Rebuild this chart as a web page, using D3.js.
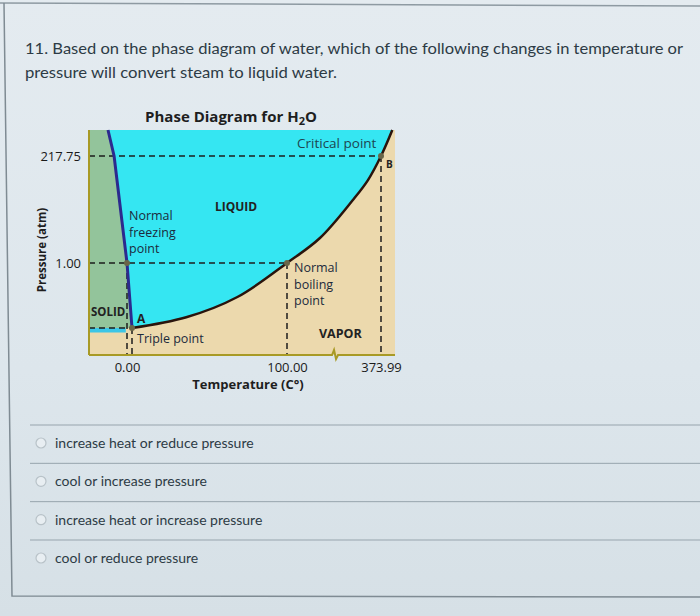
<!DOCTYPE html>
<html>
<head>
<meta charset="utf-8">
<script src="https://cdn.jsdelivr.net/npm/d3@7"></script>
<style>
  html, body { margin: 0; padding: 0; }
  body { width: 700px; height: 616px; overflow: hidden;
         background: linear-gradient(180deg, #e4ebf0 0%, #dde6ec 60%, #d6e0e6 100%); }
  svg { display: block; }
</style>
</head>
<body>
<svg id="page" width="700" height="616"></svg>
<script>
// question + answers
const question = [
  '11. Based on the phase diagram of water, which of the following changes in temperature or',
  'pressure will convert steam to liquid water.'
];
const answers = [
  'increase heat or reduce pressure',
  'cool or increase pressure',
  'increase heat or increase pressure',
  'cool or reduce pressure'
];

// phase diagram values (temperature in C, pressure in atm), schematic
const tempTicks = [0, 100, 373.99];
const pressureTicks = [1, 217.75];
const fusionTemp = [-12.5, -8.5, 0, 0.01];
const fusionPressure = [300, 217.75, 1, 0.006];
const vaporTemp = [0.01, 35, 68, 100, 196, 292, 336, 373.99, 395];
const vaporPressure = [0.006, 0.17, 0.48, 1, 51.6, 128.6, 169, 217.75, 300];
const pointNames = ['triple', 'freezing', 'boiling', 'critical'];
const pointTemp = [0.01, 0, 100, 373.99];
const pointPressure = [0.006, 1, 1, 217.75];

const svg = d3.select('#page');

// page frame
svg.append('path').attr('d', 'M0,3 L700,6').attr('stroke', '#8e9aa2').attr('stroke-width', 1.5);
svg.append('path').attr('d', 'M4,3 L12,596 L700,597').attr('fill', 'none')
  .attr('stroke', '#7f8b93').attr('stroke-width', 1.5);

const q = svg.append('g').attr('font-family', 'Lato').attr('font-size', 16).attr('fill', '#2d3b45');
q.append('text').attr('x', 25).attr('y', 54).attr('textLength', 658).attr('lengthAdjust', 'spacingAndGlyphs').text(question[0]);
q.append('text').attr('x', 25).attr('y', 78).attr('textLength', 312).attr('lengthAdjust', 'spacingAndGlyphs').text(question[1]);

// answers
const ansY = d3.scalePoint().domain(answers).range([443, 558]);
const a = svg.append('g').attr('font-family', 'Lato').attr('font-size', 14).attr('fill', '#2d3b45');
answers.forEach(d => {
  const y = ansY(d);
  a.append('line').attr('x1', 30).attr('x2', 700).attr('y1', y - 18).attr('y2', y - 18)
    .attr('stroke', '#97a4ad').attr('stroke-width', 1);
  a.append('circle').attr('cx', 41).attr('cy', y).attr('r', 5)
    .attr('fill', '#e8eef2').attr('stroke', '#b8c2c8').attr('stroke-width', 1.2);
  a.append('text').attr('x', 55).attr('y', y + 5).text(d);
});

// chart
const x = d3.scaleLinear().domain([-25, 0, 0.01, 100, 373.99, 400]).range([89, 127, 132, 287, 381, 395]);
const y = d3.scaleLinear().domain([0, 0.006, 1, 217.75, 300]).range([355, 328, 263, 156, 130]);
const g = svg.append('g').attr('font-family', 'Open Sans');

const line = d3.line().curve(d3.curveCatmullRom);
const straight = d3.line();
const fusion = fusionTemp.map((t, i) => [x(t), y(fusionPressure[i])]);
const vapor = vaporTemp.map((t, i) => [x(t), y(vaporPressure[i])]);

// vapor background
g.append('rect').attr('x', x(-25)).attr('y', y(300)).attr('width', x(400) - x(-25)).attr('height', y(0) - y(300))
  .attr('fill', '#ecd9ad');
// liquid
g.append('path').attr('fill', '#35e6f2')
  .attr('d', straight(fusion) + line(vapor).replace(/^M/, 'L') + 'Z');
// solid
g.append('path').attr('fill', '#93c49b')
  .attr('d', `M${x(-25)},${y(300)}` + straight(fusion).replace(/^M/, 'L') + `L${x(-25)},${y(0.006)}Z`);
// thin band under triple point
g.append('rect').attr('x', x(-25)).attr('y', y(0.006)).attr('width', x(-0.8) - x(-25)).attr('height', y(0.005) - y(0.006))
  .attr('fill', '#3cc6e6');

// dashed guides
const dash = g.append('g').attr('stroke', '#1d1d1d').attr('stroke-width', 1.5).attr('stroke-dasharray', '6,4').attr('fill', 'none');
const P = name => { const i = pointNames.indexOf(name); return [x(pointTemp[i]), y(pointPressure[i])]; };
['critical', 'boiling', 'triple'].forEach(n => {
  const [px, py] = P(n);
  dash.append('path').attr('d', `M${x(-25)},${py}H${px}`);
  dash.append('path').attr('d', `M${px},${py}V${y(0)}`);
});
{ const [px, py] = P('freezing'); dash.append('path').attr('d', `M${px},${py}V${y(0)}`); }

// curves
g.append('path').attr('d', line(vapor)).attr('fill', 'none').attr('stroke', '#2a140c').attr('stroke-width', 2.5);
g.append('path').attr('d', straight(fusion)).attr('fill', 'none').attr('stroke', '#2c2a8e').attr('stroke-width', 3);

// key points
pointNames.forEach(n => {
  const [px, py] = P(n);
  g.append('circle').attr('cx', px).attr('cy', py).attr('r', 3).attr('fill', '#6a6648');
});

// axes lines
const axisColor = '#a89a26';
g.append('path').attr('d', `M${x(-25)},${y(300)}V${y(0)}`).attr('stroke', axisColor).attr('stroke-width', 2);
const bx = x(240);
g.append('path').attr('fill', 'none').attr('stroke', axisColor).attr('stroke-width', 2)
  .attr('d', `M${x(-25)},${y(0)}H${bx - 3}l2,-5l2,9l2,-4H${x(400)}`);

// tick labels
const yAxis = g.append('g').attr('transform', `translate(${x(-25)},0)`)
  .call(d3.axisLeft(y).tickValues(pressureTicks).tickFormat(d3.format('.2f')).tickSize(0).tickPadding(8));
const xAxis = g.append('g').attr('transform', `translate(0,${y(0)})`)
  .call(d3.axisBottom(x).tickValues(tempTicks).tickFormat(d3.format('.2f')).tickSize(0).tickPadding(8));
[yAxis, xAxis].forEach(ax => {
  ax.select('.domain').remove();
  ax.selectAll('text').attr('font-family', 'Open Sans').attr('font-size', 13).attr('fill', '#1a1a1a');
});

// titles
g.append('text').attr('x', 231).attr('y', 122).attr('text-anchor', 'middle')
  .attr('font-size', 15).attr('font-weight', 'bold').attr('fill', '#1e1e1e')
  .html('Phase Diagram for H<tspan font-size="11" dy="3">2</tspan><tspan dy="-3">O</tspan>');
g.append('text').attr('x', 248).attr('y', 389).attr('text-anchor', 'middle')
  .attr('font-size', 13).attr('font-weight', 'bold').attr('fill', '#1e1e1e').text('Temperature (C°)');
g.append('text').attr('transform', 'translate(46,250) rotate(-90)').attr('text-anchor', 'middle')
  .attr('font-size', 11.5).attr('font-weight', 'bold').attr('fill', '#1e1e1e').text('Pressure (atm)');

// region + point labels
const lab = (txt, lx, ly, opts = {}) => g.append('text').attr('x', lx).attr('y', ly)
  .attr('font-size', opts.size || 12.5).attr('font-weight', opts.bold ? 'bold' : 'normal')
  .attr('fill', opts.color || '#1c2a3c').text(txt);
lab('Critical point', 297, 148, { size: 13.5, color: '#1d4550' });
lab('B', 386, 168, { size: 10, bold: true, color: '#222' });
lab('LIQUID', 215, 211, { size: 12, bold: true, color: '#222' });
['Normal', 'freezing', 'point'].forEach((t, i) => lab(t, 129, 220 + i * 16.5));
['Normal', 'boiling', 'point'].forEach((t, i) => lab(t, 294, 272 + i * 16.5));
lab('SOLID', 91, 316, { size: 11.5, bold: true, color: '#222' });
lab('A', 137, 323, { size: 12, bold: true, color: '#222' });
lab('Triple point', 137, 343);
lab('VAPOR', 319, 338, { size: 12.5, bold: true, color: '#222' });
</script>
</body>
</html>
